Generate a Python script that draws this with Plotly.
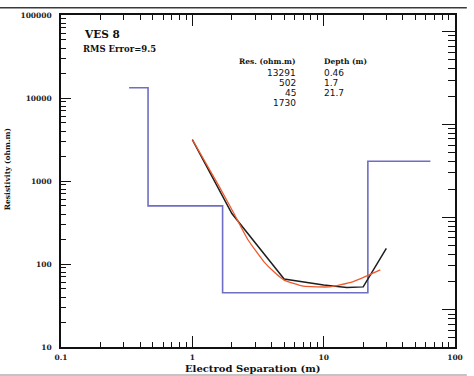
import plotly.graph_objects as go

# ---- data ----
layer_res = [13291, 502, 45, 1730]          # ohm.m
layer_depth = [0.46, 1.7, 21.7]             # m
model_x_start = 0.33
model_x_end = 65

obs_ab2 = [1, 2, 5, 10, 15, 20, 30]
obs_rho = [3160, 405, 66, 56, 52, 53, 154]

calc_ab2 = [1, 1.6, 2.05, 2.65, 3.5, 4.2, 5.0, 7.0, 11.1, 16.6, 27]
calc_rho = [3160, 860, 420, 196, 107, 80, 64, 54, 53, 61, 85]

x_tickvals = [0.1, 1, 10, 100]
x_ticktext = ["0.1", "1", "10", "100"]
y_tickvals = [10, 100, 1000, 10000, 100000]
y_ticktext = ["10", "100", "1000", "10000", "100000"]

title_text = "VES 8"
rms_text = "RMS Error=9.5"
depth_text = ["0.46", "1.7", "21.7"]

SERIF = "DejaVu Serif"
SANS = "DejaVu Sans"

fig = go.Figure()

# model (step) curve
fig.add_trace(go.Scatter(
    x=[model_x_start] + layer_depth + [model_x_end],
    y=layer_res + [layer_res[-1]],
    mode="lines", line=dict(color="#6e6ec4", width=1.6, shape="hv"),
    showlegend=False, hoverinfo="skip"))

# observed
fig.add_trace(go.Scatter(
    x=obs_ab2, y=obs_rho, mode="lines",
    line=dict(color="#1e1e1e", width=1.5),
    showlegend=False))

# calculated
fig.add_trace(go.Scatter(
    x=calc_ab2, y=calc_rho, mode="lines",
    line=dict(color="#ee5a2c", width=1.3, shape="spline", smoothing=0.4),
    showlegend=False))

# dummy trace for right axis
fig.add_trace(go.Scatter(x=[], y=[], yaxis="y2", showlegend=False))

tickfont = dict(family=SERIF, size=7.5, color="#222", weight="bold")

fig.update_layout(
    width=474, height=376,
    margin=dict(l=61, r=11, t=14, b=29),
    paper_bgcolor="white", plot_bgcolor="white",
    xaxis=dict(
        type="log", range=[-1, 2],
        tickvals=x_tickvals, ticktext=x_ticktext,
        ticks="inside", ticklen=11, tickwidth=1.2, tickcolor="#111",
        minor=dict(dtick="D1", ticks="inside", ticklen=5, tickwidth=1, tickcolor="#111", showgrid=False),
        showgrid=False, zeroline=False,
        showline=True, linecolor="#111", linewidth=1.5, mirror="ticks",
        tickfont=tickfont, ticklabelstandoff=2,
    ),
    yaxis=dict(
        type="log", range=[1, 5],
        tickvals=y_tickvals, ticktext=y_ticktext,
        ticks="inside", ticklen=10, tickwidth=1.2, tickcolor="#111",
        minor=dict(dtick="D1", ticks="inside", ticklen=5, tickwidth=1, tickcolor="#111", showgrid=False),
        showgrid=False, zeroline=False,
        showline=True, linecolor="#111", linewidth=1.5, mirror=True,
        tickfont=tickfont, ticklabelstandoff=6,
    ),
    yaxis2=dict(
        type="log", range=[-0.4, 3.18], overlaying="y", side="right", anchor="x",
        ticks="inside", ticklen=13, tickwidth=1.2, tickcolor="#111", dtick=1,
        minor=dict(dtick="D1", ticks="inside", ticklen=7, tickwidth=1, tickcolor="#111", showgrid=False),
        showticklabels=False, showgrid=False, zeroline=False,
        showline=True, linecolor="#111", linewidth=1.5,
    ),
)

ann = []
ann.append(dict(text=title_text, x=0.054, y=0.943, xref="paper", yref="paper",
                xanchor="left", yanchor="middle", showarrow=False,
                font=dict(family=SERIF, size=10.5, color="#111", weight="bold")))
ann.append(dict(text=rms_text, x=0.052, y=0.898, xref="paper", yref="paper",
                xanchor="left", yanchor="middle", showarrow=False,
                font=dict(family=SERIF, size=8.5, color="#111", weight="bold")))
hfont = dict(family=SERIF, size=7.5, color="#111", weight="bold")
ann.append(dict(text="Res. (ohm.m)", x=0.60, y=0.859, xref="paper", yref="paper",
                xanchor="right", yanchor="middle", showarrow=False, font=hfont))
ann.append(dict(text="Depth (m)", x=0.662, y=0.859, xref="paper", yref="paper",
                xanchor="left", yanchor="middle", showarrow=False, font=hfont))
vfont = dict(family=SANS, size=9, color="#111")
row_y0, row_dy = 0.826, 0.030
for i, r in enumerate(layer_res):
    ann.append(dict(text=str(r), x=0.601, y=row_y0 - i * row_dy, xref="paper", yref="paper",
                    xanchor="right", yanchor="middle", showarrow=False, font=vfont))
for i, d in enumerate(depth_text):
    ann.append(dict(text=d, x=0.662, y=row_y0 - i * row_dy, xref="paper", yref="paper",
                    xanchor="left", yanchor="middle", showarrow=False, font=vfont))
# axis titles
ann.append(dict(text="Electrod Separation (m)", x=0.488, y=-0.066, xref="paper", yref="paper",
                xanchor="center", yanchor="middle", showarrow=False,
                font=dict(family=SERIF, size=10, color="#111", weight="bold")))
ann.append(dict(text="Resistivity (ohm.m)", x=-0.135, y=0.535, xref="paper", yref="paper",
                xanchor="center", yanchor="middle", showarrow=False, textangle=-90,
                font=dict(family=SERIF, size=7.5, color="#111", weight="bold")))
fig.update_layout(annotations=ann)

# frame decorations: top dark line and bottom gray strip
fig.update_layout(shapes=[
    dict(type="line", xref="paper", yref="paper", x0=-0.16, x1=1.03, y0=1.022, y1=1.022,
         line=dict(color="#3a3a3a", width=1.5)),
    dict(type="rect", xref="paper", yref="paper", x0=-0.16, x1=1.03, y0=-0.09, y1=-0.081,
         line=dict(width=0), fillcolor="#c4c4c4", layer="below"),
])

fig.write_html("out.html", config={"displayModeBar": False},
               post_script="document.body.style.margin='0';document.body.style.overflow='hidden';")
